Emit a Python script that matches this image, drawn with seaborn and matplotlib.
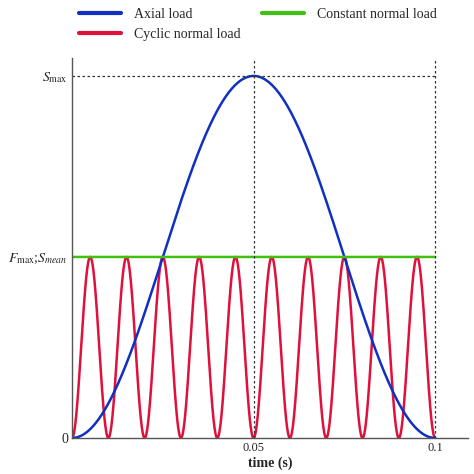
import numpy as np
import pandas as pd
import matplotlib
matplotlib.use("Agg")
import matplotlib.pyplot as plt
import seaborn as sns

sns.set_style("white")
plt.rcParams['font.family'] = ['Liberation Serif', 'DejaVu Serif']
plt.rcParams['mathtext.fontset'] = 'stix'

# chart parameters
t_end = 0.1          # s
s_max = 1.0
f_max = 0.5          # Fmax ; Smean level
n_cycles = 10        # cyclic normal load cycles
xticks = [0.05, 0.1]
xtick_labels = ["0.05", "0.1"]
yticks = [0.0, f_max, s_max]
ytick_labels = ["0", r"$F_{\mathrm{max}}$;$S_{mean}$", r"$S_{\mathrm{max}}$"]

t = np.linspace(0, t_end, 2001)
df = pd.DataFrame({
    "t": t,
    "axial": s_max * (1 - np.cos(2 * np.pi * t / t_end)) / 2,
    "constant": np.full_like(t, f_max),
    "cyclic": f_max * (1 - np.cos(2 * np.pi * n_cycles * t / t_end)) / 2,
})

fig = plt.figure(figsize=(4.74, 4.74), dpi=100)
ax = fig.add_axes([0.152, 0.076, 0.835, 0.802])

sns.lineplot(data=df, x="t", y="cyclic", ax=ax, color="#e0103c", lw=1.8, label="Cyclic normal load")
sns.lineplot(data=df, x="t", y="axial", ax=ax, color="#1030c0", lw=1.8, label="Axial load")
sns.lineplot(data=df, x="t", y="constant", ax=ax, color="#40c010", lw=1.8, label="Constant normal load")

ax.plot([0, t_end], [s_max, s_max], ls=(0, (2, 2)), color="#333", lw=0.9)
ax.plot([t_end, t_end], [0, 1.05], ls=(0, (2, 2)), color="#333", lw=0.9)
ax.plot([0.05, 0.05], [0, 1.05], ls=(0, (2, 2)), color="#333", lw=0.9)

ax.set_xlim(0, 0.109)
ax.set_ylim(0, 1.05)
ax.set_xticks(xticks)
ax.set_xticklabels(xtick_labels, fontsize=9)
ax.set_yticks(yticks)
ax.set_yticklabels(ytick_labels, fontsize=10)
ax.tick_params(length=0, pad=3)
ax.set_xlabel("time (s)", fontweight="bold", fontsize=10, labelpad=2)
ax.set_ylabel("")
for s in ["top", "right"]:
    ax.spines[s].set_visible(False)
for s in ["left", "bottom"]:
    ax.spines[s].set_color("#555")
    ax.spines[s].set_linewidth(1.0)

h, l = ax.get_legend_handles_labels()
ax.get_legend().remove()
order = [1, 0, 2]
fig.legend([h[i] for i in order], [l[i] for i in order], loc="upper left",
           bbox_to_anchor=(0.14, 1.01), ncol=2, frameon=False, fontsize=10,
           handlelength=3, columnspacing=1.5, handletextpad=1.0, labelspacing=0.5)
for line in fig.legends[0].get_lines():
    line.set_linewidth(3)

fig.savefig("out.png", dpi=100)
